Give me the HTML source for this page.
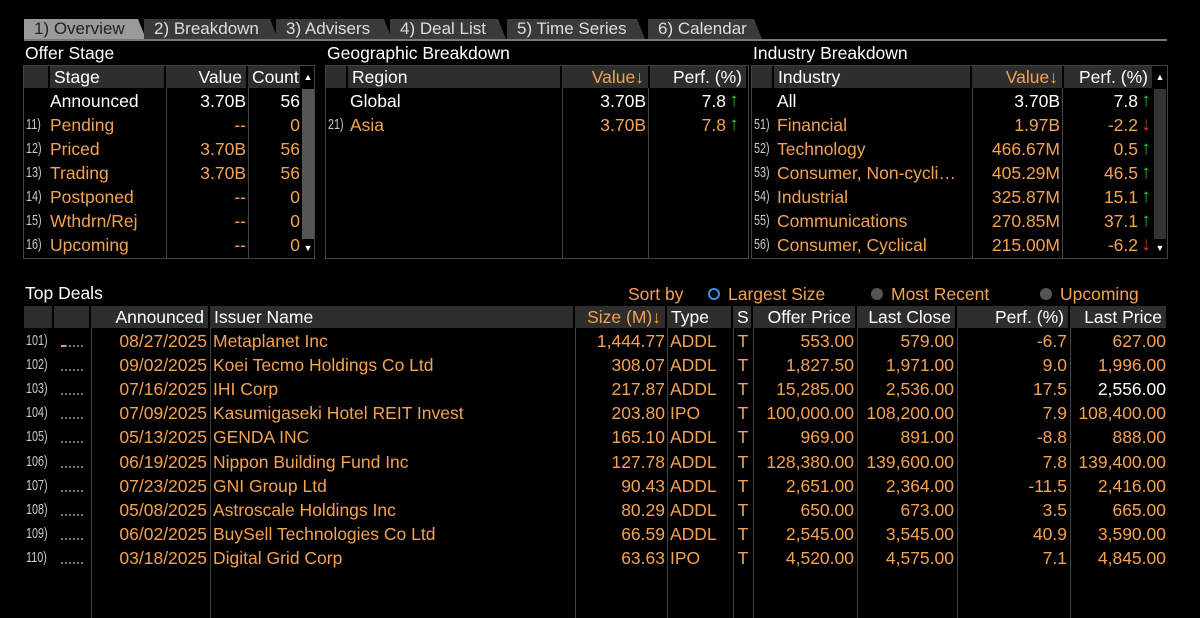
<!DOCTYPE html>
<html><head><meta charset="utf-8"><style>
body{margin:0;width:1200px;height:617px;background:#000;overflow:hidden;font-family:"Liberation Sans",sans-serif;color:#fff;position:relative}
.a{position:absolute;white-space:nowrap;font-size:17.5px;line-height:22px}
.o{color:#f3a24f}.w{color:#fff}.sm{font-size:15px;color:#ccc;transform:scaleX(.72);transform-origin:left}
.hd{position:absolute;background:#2e2e2e;height:22px}
.tab{position:absolute;top:19px;height:20px;background:#3a3a3a;color:#ddd;font-size:17px;line-height:20px;padding-left:10px;clip-path:polygon(0 0,calc(100% - 8px) 0,100% 100%,0 100%)}
.up{color:#3c3;font-size:19px;font-weight:bold}.dn{color:#e33;font-size:19px;font-weight:bold}
.tri{font-size:9px}
</style></head><body>
<div>
<div class="tab" style="left:24px;width:112px;background:#9a9a9a;color:#222">1) Overview</div>
<div class="tab" style="left:144px;width:124px">2) Breakdown</div>
<div class="tab" style="left:276px;width:106px">3) Advisers</div>
<div class="tab" style="left:390px;width:106px">4) Deal List</div>
<div class="tab" style="left:507px;width:128px">5) Time Series</div>
<div class="tab" style="left:648px;width:104px">6) Calendar</div>
<div style="position:absolute;left:24px;top:39px;width:1143px;height:2px;background:#777"></div>
</div>
<div class="a" style="left:25px;top:42px">Offer Stage</div>
<div class="a" style="left:327px;top:42px">Geographic Breakdown</div>
<div class="a" style="left:753px;top:42px">Industry Breakdown</div>
<div class="a" style="left:25px;top:282px">Top Deals</div>
<div class="a o" style="left:628px;top:283px">Sort by</div>
<div class="a o" style="left:708px;top:283px"><span style="display:inline-block;width:8px;height:8px;border:2.5px solid #3b8fe6;border-radius:50%;margin-right:8px"></span>Largest Size</div>
<div class="a o" style="left:871px;top:283px"><span style="display:inline-block;width:12px;height:12px;background:#555;border-radius:50%;margin-right:8px"></span>Most Recent</div>
<div class="a o" style="left:1040px;top:283px"><span style="display:inline-block;width:12px;height:12px;background:#555;border-radius:50%;margin-right:8px"></span>Upcoming</div>
<div id="root"></div>
<script>
const root=document.getElementById('root');
function box(x,y,w,h,name){const d=document.createElement('div');d.style.cssText=`position:absolute;left:${x}px;top:${y}px;width:${w}px;height:${h}px;border:1px solid #444;box-sizing:border-box`;


root.appendChild(d);}
function hd(x,w,y,t,cls,align,name){const d=document.createElement('div');d.className='hd';d.style.left=x+'px';d.style.top=y+'px';d.style.width=(w-2)+'px';
d.innerHTML=`<div class="a ${cls}" style="left:0;right:4px;top:0;padding-left:4px;text-align:${align}">${t}</div>`;


root.appendChild(d);}
function txt(x,w,y,t,cls,align,name){const d=document.createElement('div');d.className='a '+cls;d.style.left=x+'px';d.style.top=y+'px';d.style.width=w+'px';d.style.textAlign=align;d.innerHTML=t;


root.appendChild(d);}
function vline(x,y,h){const d=document.createElement('div');d.style.cssText=`position:absolute;left:${x}px;top:${y}px;width:1px;height:${h}px;background:#444`;root.appendChild(d);}
// Offer stage
const stageNames=['Announced','Pending','Priced','Trading','Postponed','Wthdrn/Rej','Upcoming'];
const stageNums=['','11)','12)','13)','14)','15)','16)'];
const stageValues=['3.70B','--','3.70B','3.70B','--','--','--'];
const stageCounts=['56','0','56','56','0','0','0'];
box(23,65,292,194,'offer-stage-table');
hd(24,26,66,'','w','left','offer-header-blank');hd(50,116,66,'Stage','w','left','stage-header');hd(166,82,66,'Value','w','right','value-header');hd(248,54,66,'Count','w','right','count-header');
txt(302,12,66,'▲','w tri','center','scroll-up');
vline(166,88,170);vline(248,88,170);
const sb=document.createElement('div');sb.style.cssText='position:absolute;left:302px;top:89px;width:12px;height:150px;background:#555';root.appendChild(sb);
txt(302,12,237,'▼','w tri','center','scroll-down');
stageNames.forEach((n,i)=>{const y=90+i*24;const c=i?'o':'w';
txt(26,24,y,stageNums[i],'sm','left','stage-num');
txt(50,116,y,n,c,'left','stage-name');txt(166,80,y,stageValues[i],c,'right','stage-value');txt(248,52,y,stageCounts[i],c,'right','stage-count');});
// Geographic
const regions=['Global','Asia'];const regionNums=['','21)'];const regionValues=['3.70B','3.70B'];const regionPerf=['7.8','7.8'];
box(325,65,424,194,'geographic-table');
hd(326,22,66,'','w','left','geo-header-blank');hd(348,214,66,'Region','w','left','region-header');hd(562,88,66,'Value↓','o','right','geo-value-header');hd(650,98,66,'Perf. (%)','w','right','geo-perf-header');
vline(562,88,170);vline(648,88,170);
regions.forEach((n,i)=>{const y=90+i*24;const c=i?'o':'w';
txt(328,22,y,regionNums[i],'sm','left','region-num');
txt(350,200,y,n,c,'left','region-name');txt(562,84,y,regionValues[i],c,'right','region-value');txt(650,76,y,regionPerf[i],c,'right','region-perf');txt(727,14,y,'↑','up','center','perf-arrow');});
// Industry
const inds=['All','Financial','Technology','Consumer, Non-cycli…','Industrial','Communications','Consumer, Cyclical'];
const indValues=['3.70B','1.97B','466.67M','405.29M','325.87M','270.85M','215.00M'];
const indPerf=['7.8','-2.2','0.5','46.5','15.1','37.1','-6.2'];
box(751,65,417,194,'industry-table');
hd(752,22,66,'','w','left','ind-header-blank');hd(774,198,66,'Industry','w','left','industry-header');hd(972,92,66,'Value↓','o','right','ind-value-header');hd(1064,90,66,'Perf. (%)','w','right','ind-perf-header');
txt(1154,12,66,'▲','w tri','center','scroll-up');
vline(972,88,170);vline(1062,88,170);
const sb2=document.createElement('div');sb2.style.cssText='position:absolute;left:1154px;top:89px;width:12px;height:150px;background:#333';root.appendChild(sb2);
txt(1154,12,237,'▼','w tri','center','scroll-down');
inds.forEach((n,i)=>{const y=90+i*24;const c=i?'o':'w';const neg=indPerf[i][0]=='-';
txt(754,22,y,i?(50+i)+')':'','sm','left','industry-num');
txt(777,192,y,n,c,'left','industry-name');txt(972,88,y,indValues[i],c,'right','industry-value');txt(1064,74,y,indPerf[i],c,'right','industry-perf');txt(1139,14,y,neg?'↓':'↑',neg?'dn':'up','center','perf-arrow');});
// Top deals
const dates=['08/27/2025','09/02/2025','07/16/2025','07/09/2025','05/13/2025','06/19/2025','07/23/2025','05/08/2025','06/02/2025','03/18/2025'];
const issuers=['Metaplanet Inc','Koei Tecmo Holdings Co Ltd','IHI Corp','Kasumigaseki Hotel REIT Invest','GENDA INC','Nippon Building Fund Inc','GNI Group Ltd','Astroscale Holdings Inc','BuySell Technologies Co Ltd','Digital Grid Corp'];
const sizes=['1,444.77','308.07','217.87','203.80','165.10','127.78','90.43','80.29','66.59','63.63'];
const types=['ADDL','ADDL','ADDL','IPO','ADDL','ADDL','ADDL','ADDL','ADDL','IPO'];
const offerPrices=['553.00','1,827.50','15,285.00','100,000.00','969.00','128,380.00','2,651.00','650.00','2,545.00','4,520.00'];
const lastCloses=['579.00','1,971.00','2,536.00','108,200.00','891.00','139,600.00','2,364.00','673.00','3,545.00','4,575.00'];
const perfs=['-6.7','9.0','17.5','7.9','-8.8','7.8','-11.5','3.5','40.9','7.1'];
const lastPrices=['627.00','1,996.00','2,556.00','108,400.00','888.00','139,400.00','2,416.00','665.00','3,590.00','4,845.00'];
const cols=[[24,30,'','w','left'],[54,37,'','w','left'],[91,119,'Announced','w','right'],[210,365,'Issuer Name','w','left'],[575,92,'Size (M)↓','o','right'],[667,66,'Type','w','left'],[733,20,'S','w','center'],[753,104,'Offer Price','w','right'],[857,100,'Last Close','w','right'],[957,113,'Perf. (%)','w','right'],[1070,98,'Last Price','w','right']];
cols.forEach(c=>hd(c[0],c[1],306,c[2],c[3],c[4],'deals-header'));
[91,210,575,667,733,753,857,957,1070].forEach(x=>vline(x,328,290));
dates.forEach((d,i)=>{const y=330+i*24.1;
txt(26,28,y,(101+i)+')','sm','left','deal-num');
const dots=document.createElement('div');dots.style.cssText=`position:absolute;left:61px;top:${y+15}px;width:22px;height:2px;background:repeating-linear-gradient(90deg,#777 0 2px,transparent 2px 4px)`;


if(i==0){dots.style.background='linear-gradient(90deg,#f3a24f 0 4px,transparent 4px),repeating-linear-gradient(90deg,#777 0 2px,transparent 2px 4px)';}
root.appendChild(dots);
txt(91,116,y,d,'o','right','deal-date');
txt(213,360,y,issuers[i],'o','left','deal-issuer');
txt(575,90,y,sizes[i],'o','right','deal-size');
txt(670,62,y,types[i],'o','left','deal-type');
txt(733,20,y,'T','o','center','deal-status');
txt(753,101,y,offerPrices[i],'o','right','deal-offer-price');
txt(857,97,y,lastCloses[i],'o','right','deal-last-close');
txt(957,110,y,perfs[i],'o','right','deal-perf');
txt(1070,96,y,lastPrices[i],i==2?'w':'o','right','deal-last-price');});
</script>
</body></html>
